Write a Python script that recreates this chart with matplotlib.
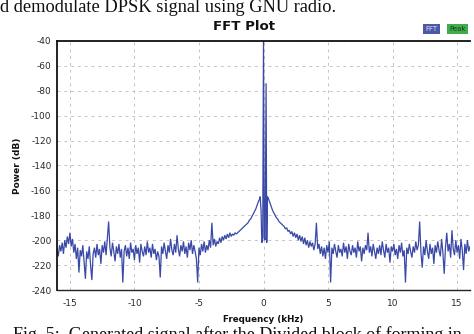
import numpy as np
import matplotlib
matplotlib.use("Agg")
import matplotlib.pyplot as plt

# Spectrum estimate (dB), left half: -16.0 kHz .. -0.3 kHz in 0.1 kHz bins
left_db = [
    -207, -213, -204, -209, -202, -211, -200, -206, -197, -203,
    -194, -205, -199, -210, -203, -215, -206, -226, -208, -213,
    -204, -218, -231, -209, -215, -205, -220, -232, -211, -206,
    -214, -203, -212, -207, -219, -204, -210, -201, -212, -199,
    -185, -206, -213, -202, -209, -217, -205, -211, -203, -214,
    -207, -234, -209, -204, -213, -206, -215, -202, -210, -207,
    -216, -204, -211, -206, -218, -203, -209, -213, -205, -212,
    -201, -210, -206, -214, -203, -211, -207, -216, -209, -213,
    -230, -205, -211, -202, -209, -215, -204, -210, -199, -208,
    -212, -203, -210, -196, -207, -213, -204, -209, -201, -211,
    -205, -214, -202, -208, -200, -211, -204, -209, -215, -234,
    -206, -212, -203, -209, -201, -210, -204, -208, -200, -206,
    -186, -204, -199, -205, -201, -203, -198, -202, -197, -200,
    -196, -199, -195, -198, -194, -197, -195, -196, -194, -195,
    -194, -193, -192, -191, -190, -189, -188, -187, -186, -184,
    -183, -181, -179, -177, -175, -172, -169, -167,
]

# Carrier region around DC
center_khz = [-0.26, -0.19, -0.13, -0.06, 0.0, 0.06, 0.13, 0.20, 0.25, 0.31]
center_db = [-165, -176, -202, -199, -40, -198, -200, -74, -202, -165]

# Right half: 0.4 kHz .. 16.0 kHz in 0.1 kHz bins
right_db = [
    -167, -170, -173, -176, -178, -180,
    -182, -183, -185, -186, -187, -188, -189, -191, -190, -193,
    -192, -195, -193, -197, -194, -198, -195, -200, -196, -201,
    -197, -203, -198, -204, -200, -206, -201, -205, -202, -208,
    -203, -186, -207, -203, -211, -205, -213, -206, -215, -204,
    -210, -201, -234, -206, -211, -203, -209, -214, -204, -210,
    -207, -213, -202, -210, -205, -215, -203, -209, -212, -204,
    -210, -206, -214, -201, -209, -205, -217, -206, -211, -204,
    -208, -194, -210, -205, -213, -203, -209, -215, -206, -211,
    -204, -212, -201, -208, -214, -203, -210, -206, -218, -205,
    -209, -203, -212, -207, -215, -204, -210, -202, -213, -208,
    -234, -206, -211, -203, -209, -214, -205, -210, -201, -208,
    -204, -185, -210, -222, -205, -212, -200, -209, -215, -203,
    -211, -206, -219, -204, -210, -201, -208, -213, -199, -210,
    -227, -206, -194, -209, -203, -214, -192, -207, -212, -200,
    -210, -204, -215, -199, -208, -224, -203, -211, -200, -209,
    -205,
]

x_ticks = [-15, -10, -5, 0, 5, 10, 15]
y_ticks = list(range(-240, -39, 20))

left_khz = np.arange(-160, -2) / 10.0
right_khz = np.arange(4, 161) / 10.0
freq = np.concatenate([left_khz, center_khz, right_khz])
power = np.concatenate([left_db, center_db, right_db])

W, H = 474, 334
fig = plt.figure(figsize=(W / 100, H / 100), dpi=100)
fig.patch.set_facecolor("white")

ax_l, ax_r, ax_t, ax_b = 57, 470, 41, 290
ax = fig.add_axes([ax_l / W, 1 - ax_b / H, (ax_r - ax_l) / W, (ax_b - ax_t) / H])
ax.set_facecolor("white")

ax.plot(freq, power, color="#3a49a6", lw=0.9, solid_joinstyle="miter")

ax.set_xlim(-16, 16)
ax.set_ylim(-240, -40)
ax.set_xticks(x_ticks)
ax.set_yticks(y_ticks)
ax.set_xticklabels([str(v) for v in x_ticks])
ax.set_yticklabels([str(v) for v in y_ticks])
ax.tick_params(axis="both", length=0, labelsize=6.5, colors="#2a2a2a")
ax.tick_params(axis="y", pad=4)
ax.tick_params(axis="x", pad=6.5)

ax.grid(True, color="#c4c4c4", lw=0.7, linestyle=(0, (3, 4)))
ax.set_axisbelow(True)

for side in ("left", "top"):
    ax.spines[side].set_linewidth(1.3)
    ax.spines[side].set_color("#111111")
ax.spines["bottom"].set_linewidth(1.0)
ax.spines["bottom"].set_color("#222222")
ax.spines["right"].set_visible(False)

ax.set_ylabel("Power (dB)", fontsize=6.5, fontweight="bold", color="#111111")
ax.yaxis.set_label_coords((22 - ax_l) / (ax_r - ax_l), 0.5)
ax.set_xlabel("Frequency (kHz)", fontsize=6.3, fontweight="bold", color="#111111")
ax.xaxis.set_label_coords(0.5, (ax_b - 315) / (ax_b - ax_t))

fig.text(244 / W, 1 - 27 / H, "FFT Plot", ha="center", va="center",
         fontsize=9.6, fontweight="bold", color="#111111")

# Legend swatches
fig.text(431.5 / W, 1 - 29 / H, "FFT", ha="center", va="center", fontsize=5,
         color="#dde0f0",
         bbox=dict(boxstyle="square,pad=0.35", fc="#4c58a8", ec="none"))
fig.text(457.5 / W, 1 - 29 / H, "Peak", ha="center", va="center", fontsize=5,
         color="#1d3a1d",
         bbox=dict(boxstyle="square,pad=0.35", fc="#3fae4a", ec="none"))

# Surrounding document text
fig.text(0 / W, 1 - 12 / H, "d demodulate DPSK signal using GNU radio.",
         ha="left", va="baseline", fontsize=13.2, family="Liberation Serif",
         color="#111111")
fig.text(13 / W, 1 - 326 / H, "Fig. 5:  Generated signal after the Divided block of forming in",
         ha="left", va="top", fontsize=13, family="Liberation Serif",
         color="#111111")

fig.savefig("out.png", dpi=100, facecolor=fig.get_facecolor())
